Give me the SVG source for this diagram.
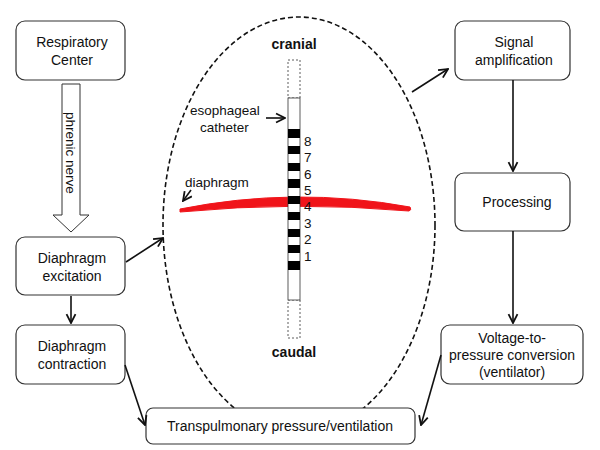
<svg xmlns="http://www.w3.org/2000/svg" width="600" height="450" viewBox="0 0 600 450">
<defs>
<style>
.box{fill:#fff;stroke:#333;stroke-width:1.2}
.t{font-family:"Liberation Sans",Arial,sans-serif;font-size:14px;fill:#111;text-anchor:middle}
.s{font-family:"Liberation Sans",Arial,sans-serif;font-size:13.5px;fill:#111}
.b{font-family:"Liberation Sans",Arial,sans-serif;font-size:14px;font-weight:bold;fill:#111;text-anchor:middle}
.c{stroke:#111;stroke-width:1.6;fill:none;marker-end:url(#ah)}
</style>
<marker id="ah" viewBox="0 0 10 10" refX="9" refY="5" markerWidth="7" markerHeight="7" orient="auto"><path d="M1,1 L9,5 L1,9" fill="none" stroke="#111" stroke-width="1.6"/></marker>
</defs>
<rect width="600" height="450" fill="#fff"/>
<g id="ellipse">
<ellipse cx="299" cy="225" rx="136" ry="208" fill="none" stroke="#111" stroke-width="1.6" stroke-dasharray="5,3"/>
<text class="b" x="294" y="49">cranial</text>
<text class="b" x="294" y="357">caudal</text>
</g>
<g id="diaphragm">
<path d="M180,209 Q295,186 410,207 Q412,210 409,211 Q295,201 180,212 Z" fill="#f0141a" stroke="#f0141a" stroke-width="1" stroke-linejoin="round"/>
<text class="s" x="185" y="187">diaphragm</text>
<text class="s" x="190" y="115">esophageal</text>
<text class="s" x="200" y="132">catheter</text>
</g>
<g id="catheter">
<rect x="288" y="60" width="12" height="38" fill="#fff" stroke="#333" stroke-width="0.8" stroke-dasharray="2,2"/>
<rect x="288" y="300" width="12" height="38" fill="#fff" stroke="#333" stroke-width="0.8" stroke-dasharray="2,2"/>
<rect x="288" y="98" width="12" height="202" fill="#fff" stroke="#333" stroke-width="0.8"/>
<g fill="#000">
<rect x="288" y="129" width="12" height="9"/><rect x="288" y="146" width="12" height="8"/><rect x="288" y="163" width="12" height="8"/><rect x="288" y="179" width="12" height="9"/><rect x="288" y="196" width="12" height="8"/><rect x="288" y="212" width="12" height="8"/><rect x="288" y="229" width="12" height="8"/><rect x="288" y="245" width="12" height="8"/><rect x="288" y="261" width="12" height="9"/>
</g>
<g class="s" font-size="12">
<text x="304" y="146">8</text><text x="304" y="162">7</text><text x="304" y="179">6</text><text x="304" y="195">5</text><text x="304" y="211">4</text><text x="304" y="228">3</text><text x="304" y="244">2</text><text x="304" y="261">1</text>
</g>
</g>
<g id="respiratory-center"><rect class="box" x="16" y="21" width="109" height="59" rx="9"/><text class="t" x="72" y="47">Respiratory</text><text class="t" x="72" y="65">Center</text></g>
<g id="phrenic">
<path d="M62,84 L80,84 L80,215 L89,215 L71,232 L53,215 L62,215 Z" fill="#fff" stroke="#333" stroke-width="1"/>
<text class="s" transform="translate(66,112) rotate(90)" font-size="14">phrenic nerve</text>
</g>
<g id="excitation"><rect class="box" x="16" y="237" width="109" height="58" rx="9"/><text class="t" x="72" y="263">Diaphragm</text><text class="t" x="72" y="281">excitation</text></g>
<g id="contraction"><rect class="box" x="16" y="325" width="109" height="59" rx="9"/><text class="t" x="72" y="351">Diaphragm</text><text class="t" x="72" y="369">contraction</text></g>
<g id="transpulmonary"><rect class="box" x="146" y="408" width="269" height="36" rx="7"/><text class="t" x="280" y="431">Transpulmonary pressure/ventilation</text></g>
<g id="signal"><rect class="box" x="455" y="21" width="115" height="59" rx="9"/><text class="t" x="514" y="47">Signal</text><text class="t" x="514" y="65">amplification</text></g>
<g id="processing"><rect class="box" x="455" y="173" width="115" height="58" rx="9"/><text class="t" x="517" y="207">Processing</text></g>
<g id="voltage"><rect class="box" x="441" y="325" width="142" height="59" rx="9"/><text class="t" x="512" y="343">Voltage-to-</text><text class="t" x="512" y="360">pressure conversion</text><text class="t" x="512" y="377">(ventilator)</text></g>
<g id="connectors">
<path class="c" d="M266,118 L285,118"/>
<path class="c" d="M191,190 L183,201"/>
<path class="c" d="M126,262 L163,238"/>
<path class="c" d="M71,296 L71,323"/>
<path class="c" d="M125,365 L145,425"/>
<path class="c" d="M412,92 L448,69"/>
<path class="c" d="M513,80 L513,171"/>
<path class="c" d="M513,231 L513,323"/>
<path class="c" d="M441,355 L421,425"/>
</g>
</svg>
